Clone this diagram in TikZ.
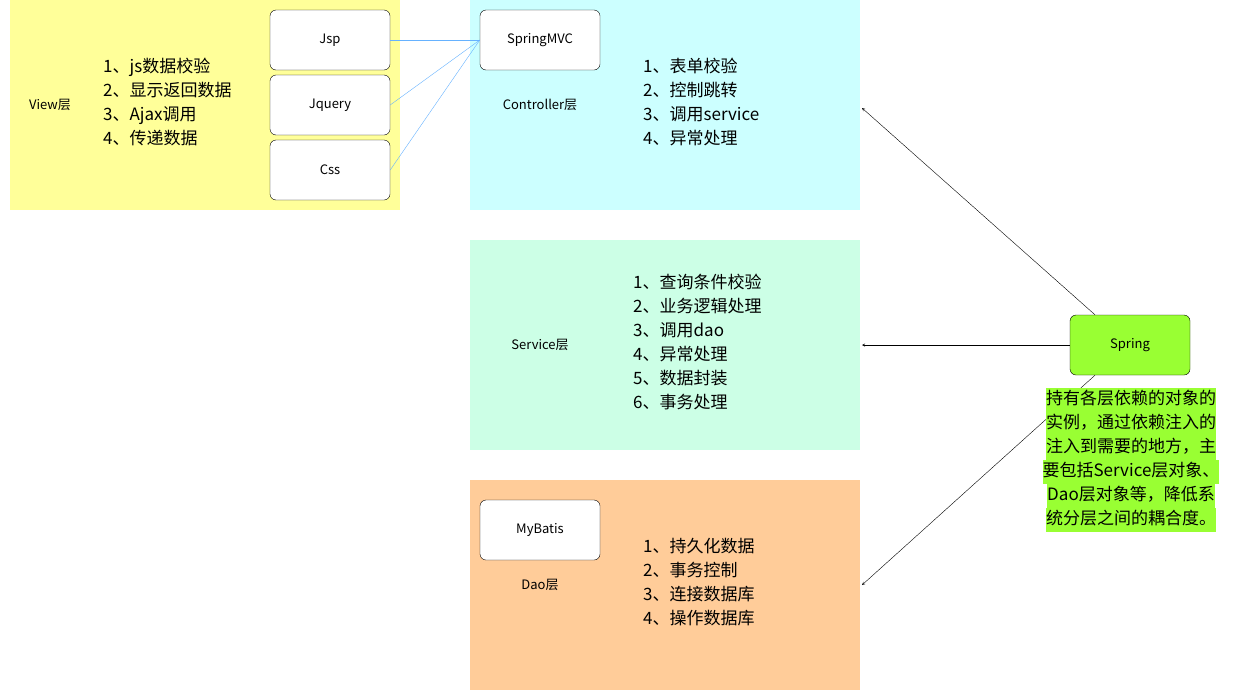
\documentclass[tikz,border=0pt]{standalone}
\usepackage{fontspec}
\setmainfont{Noto Sans CJK SC}
\usetikzlibrary{positioning}
\definecolor{viewbg}{HTML}{FFFF99}
\definecolor{ctrlbg}{HTML}{CCFFFF}
\definecolor{servbg}{HTML}{CCFFE6}
\definecolor{daobg}{HTML}{FFCC99}
\definecolor{springbg}{HTML}{99FF33}
\definecolor{linkblue}{HTML}{66B2FF}
\tikzstyle{layer} = [rectangle, draw=none, minimum width=390pt, minimum height=210pt, anchor=north west]
\tikzstyle{tech} = [rectangle, rounded corners=6pt, draw=black, fill=white,
minimum width=120pt, minimum height=60pt, font=\fontsize{13}{16}\selectfont]
\tikzstyle{caption} = [font=\fontsize{13}{16}\selectfont]
\tikzstyle{duty} = [anchor=north west, align=left, inner sep=0pt, font=\fontsize{17}{24}\selectfont]
\tikzstyle{arrow} = [->, >=stealth]
\newcommand{\hlline}[1]{{\setlength{\fboxsep}{0pt}\colorbox{springbg}{\strut #1}}}

\begin{document}
\begin{tikzpicture}[x=1pt, y=-1pt]
\useasboundingbox (0,0) rectangle (1238,691);

\node (view) [layer, fill=viewbg] at (10,0) {};
\node (ctrl) [layer, fill=ctrlbg] at (470,0) {};
\node (serv) [layer, fill=servbg] at (470,240) {};
\node (dao) [layer, fill=daobg] at (470,480) {};

\node (viewlbl) [caption] at (50,105) {View层};
\node (jsp) [tech] at (330,40) {Jsp};
\node (jquery) [tech] at (330,105) {Jquery};
\node (css) [tech] at (330,170) {Css};
\node (viewduty) [duty] at (103,58) {1、js数据校验\\2、显示返回数据\\3、Ajax调用\\4、传递数据};

\node (mvc) [tech] at (540,40) {SpringMVC};
\node (ctrllbl) [caption] at (540,105) {Controller层};
\node (ctrlduty) [duty] at (643,58) {1、表单校验\\2、控制跳转\\3、调用service\\4、异常处理};

\node (servlbl) [caption] at (540,345) {Service层};
\node (servduty) [duty] at (633,274) {1、查询条件校验\\2、业务逻辑处理\\3、调用dao\\4、异常处理\\5、数据封装\\6、事务处理};

\node (mybatis) [tech] at (540,530) {MyBatis};
\node (daolbl) [caption] at (540,585) {Dao层};
\node (daoduty) [duty] at (643,538) {1、持久化数据\\2、事务控制\\3、连接数据库\\4、操作数据库};

\node (spring) [tech, fill=springbg] at (1130,345) {Spring};
\coordinate (ctrlin) at (862,108);
\coordinate (servin) at (862,345);
\coordinate (daoin) at (862,585);

\draw [linkblue] (jsp.east) -- (mvc.west);
\draw [linkblue] (jquery.east) -- (mvc.west);
\draw [linkblue] (css.east) -- (mvc.west);

\draw [arrow] ([xshift=-35pt]spring.north) -- (ctrlin);
\draw [arrow] (spring.west) -- (servin);
\draw [arrow] ([xshift=-35pt]spring.south) -- (daoin);

\node (note) [align=center, inner sep=0pt, font=\fontsize{17}{24}\selectfont] at (1131,460)
{\hlline{持有各层依赖的对象的}\\\hlline{实例，通过依赖注入的}\\\hlline{注入到需要的地方，主}\\\hlline{要包括Service层对象、}\\\hlline{Dao层对象等，降低系}\\\hlline{统分层之间的耦合度。}};

\end{tikzpicture}
\end{document}
